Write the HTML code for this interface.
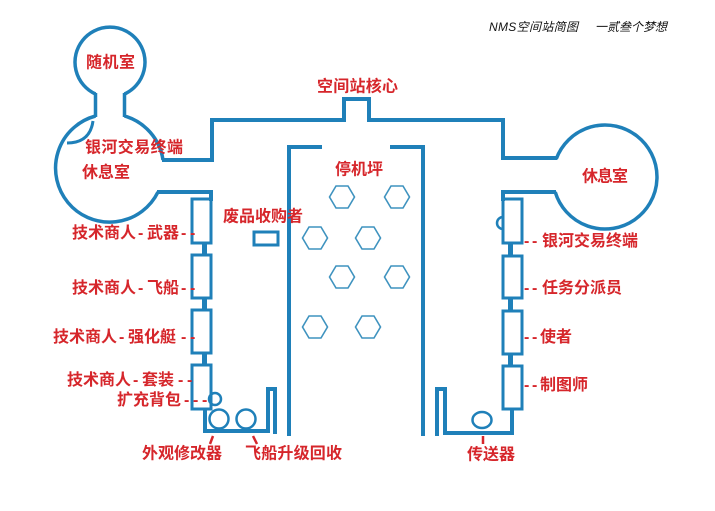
<!DOCTYPE html>
<html>
<head>
<meta charset="utf-8">
<style>
  html,body{margin:0;padding:0;background:#fff;}
  svg{display:block;}
  .lbl{font-family:"Liberation Sans","Noto Sans CJK SC",sans-serif;font-weight:700;font-size:16px;fill:#d6262b;dominant-baseline:central;}
  .ttl{font-family:"Liberation Sans","Noto Sans CJK SC",sans-serif;font-style:italic;font-size:12px;fill:#111;dominant-baseline:central;}
</style>
</head>
<body>
<svg width="715" height="511" viewBox="0 0 715 511" xmlns="http://www.w3.org/2000/svg">
  <rect width="715" height="511" fill="#fff"/>
  <g fill="none" stroke="#1f80b9" stroke-width="4" stroke-linejoin="miter">
    <path d="M124.5 94 A35 35 0 1 0 95.5 94" stroke-width="3.5"/>
    <path d="M95.5 93 L95.5 117 M124.5 93 L124.5 117" stroke-width="3.5"/>
    <path d="M124.5 116 A54 54 0 0 1 163 160" stroke-width="3.5"/>
    <path d="M158 192 A54 54 0 1 1 95.5 116" stroke-width="3.5"/>
    <path d="M67 143 Q90 143 93 121" stroke-width="3"/>
    <path d="M556.2 159 A52 52 0 1 1 555.2 192" stroke-width="3.5"/>
    <path d="M162 160 L212 160 L212 120 L344 120 L344 99 L369 99 L369 120 L503 120 L503 158 L557 158"/>
    <path d="M157 192 L211 192 L211 201"/>
    <path d="M556 192 L503 192 L503 201"/>
    <path d="M289 436 L289 147 L322 147"/>
    <path d="M390 147 L423 147 L423 436"/>
    <path d="M205 409 L205 431 L268 431 L268 389 L275 389 L275 434"/>
    <path d="M437 436 L437 389 L445 389 L445 433 L512 433 L512 409"/>
  </g>
  <g fill="none" stroke="#1f80b9" stroke-width="3">
    <rect x="192" y="199" width="19" height="44"/>
    <rect x="192" y="255" width="19" height="43"/>
    <rect x="192" y="310" width="19" height="43"/>
    <rect x="192" y="365" width="19" height="44"/>
    <rect x="503" y="199" width="19" height="44"/>
    <rect x="503" y="256" width="19" height="42"/>
    <rect x="503" y="311" width="19" height="43"/>
    <rect x="503" y="366" width="19" height="43"/>
    <rect x="254" y="232" width="24" height="13"/>
  </g>
  <g fill="#1f80b9">
    <rect x="202" y="243" width="5" height="12"/>
    <rect x="202" y="298" width="5" height="12"/>
    <rect x="202" y="353" width="5" height="12"/>
    <rect x="508" y="243" width="5" height="13"/>
    <rect x="508" y="298" width="5" height="13"/>
    <rect x="508" y="354" width="5" height="12"/>
  </g>
  <g fill="none" stroke="#1f80b9" stroke-width="2.5">
    <circle cx="215" cy="399" r="6"/>
    <circle cx="219" cy="419" r="9.5"/>
    <circle cx="246" cy="419" r="9.5"/>
    <ellipse cx="482" cy="420" rx="9.5" ry="8"/>
    <path d="M503 217 A6 6 0 0 0 503 229"/>
  </g>
  <g fill="none" stroke="#3f93bf" stroke-width="1.6">
    <polygon points="-12.5,0 -6,-11 6,-11 12.5,0 6,11 -6,11" transform="translate(342,197)"/>
    <polygon points="-12.5,0 -6,-11 6,-11 12.5,0 6,11 -6,11" transform="translate(397,197)"/>
    <polygon points="-12.5,0 -6,-11 6,-11 12.5,0 6,11 -6,11" transform="translate(315,238)"/>
    <polygon points="-12.5,0 -6,-11 6,-11 12.5,0 6,11 -6,11" transform="translate(368,238)"/>
    <polygon points="-12.5,0 -6,-11 6,-11 12.5,0 6,11 -6,11" transform="translate(342,277)"/>
    <polygon points="-12.5,0 -6,-11 6,-11 12.5,0 6,11 -6,11" transform="translate(397,277)"/>
    <polygon points="-12.5,0 -6,-11 6,-11 12.5,0 6,11 -6,11" transform="translate(315,327)"/>
    <polygon points="-12.5,0 -6,-11 6,-11 12.5,0 6,11 -6,11" transform="translate(368,327)"/>
  </g>
  <g stroke="#d6262b" stroke-width="2.5" fill="none">
    <path d="M213 436 L210 444"/>
    <path d="M253 436 L257 444"/>
    <path d="M483 436 L483 444"/>
  </g>
  <text class="lbl" x="86" y="63" textLength="49" lengthAdjust="spacing">随机室</text>
  <text class="lbl" x="85" y="148" textLength="98" lengthAdjust="spacing">银河交易终端</text>
  <text class="lbl" x="82" y="173" textLength="48" lengthAdjust="spacing">休息室</text>
  <text class="lbl" x="317" y="87" textLength="81" lengthAdjust="spacing">空间站核心</text>
  <text class="lbl" x="335" y="170" textLength="48" lengthAdjust="spacing">停机坪</text>
  <text class="lbl" x="223" y="217" textLength="80" lengthAdjust="spacing">废品收购者</text>
  <text class="lbl" x="582" y="177" textLength="46" lengthAdjust="spacing">休息室</text>

  <text class="lbl" y="233"><tspan x="72">技术商人</tspan><tspan x="138">-</tspan><tspan x="147">武器</tspan><tspan x="181">-</tspan><tspan x="190">-</tspan></text>
  <text class="lbl" y="288"><tspan x="72">技术商人</tspan><tspan x="138">-</tspan><tspan x="147">飞船</tspan><tspan x="181">-</tspan><tspan x="190">-</tspan></text>
  <text class="lbl" y="337"><tspan x="53">技术商人</tspan><tspan x="119">-</tspan><tspan x="128">强化艇</tspan><tspan x="181">-</tspan><tspan x="190">-</tspan></text>
  <text class="lbl" y="380"><tspan x="67">技术商人</tspan><tspan x="133">-</tspan><tspan x="142">套装</tspan><tspan x="178">-</tspan><tspan x="187">-</tspan></text>
  <text class="lbl" y="400"><tspan x="117">扩充背包</tspan><tspan x="184">-</tspan><tspan x="193">-</tspan><tspan x="202">-</tspan></text>

  <text class="lbl" y="241"><tspan x="524">-</tspan><tspan x="532">-</tspan><tspan x="542">银河交易终端</tspan></text>
  <text class="lbl" y="288"><tspan x="524">-</tspan><tspan x="532">-</tspan><tspan x="542">任务分派员</tspan></text>
  <text class="lbl" y="337"><tspan x="524">-</tspan><tspan x="532">-</tspan><tspan x="540">使者</tspan></text>
  <text class="lbl" y="385"><tspan x="524">-</tspan><tspan x="532">-</tspan><tspan x="540">制图师</tspan></text>

  <text class="lbl" x="142" y="454" textLength="80" lengthAdjust="spacing">外观修改器</text>
  <text class="lbl" x="245" y="454" textLength="97" lengthAdjust="spacing">飞船升级回收</text>
  <text class="lbl" x="467" y="455" textLength="48" lengthAdjust="spacing">传送器</text>
  <text class="ttl" x="489" y="27" textLength="89" lengthAdjust="spacing">NMS空间站简图</text>
  <text class="ttl" x="595" y="27" textLength="72" lengthAdjust="spacing">一贰叁个梦想</text>
</svg>
</body>
</html>
